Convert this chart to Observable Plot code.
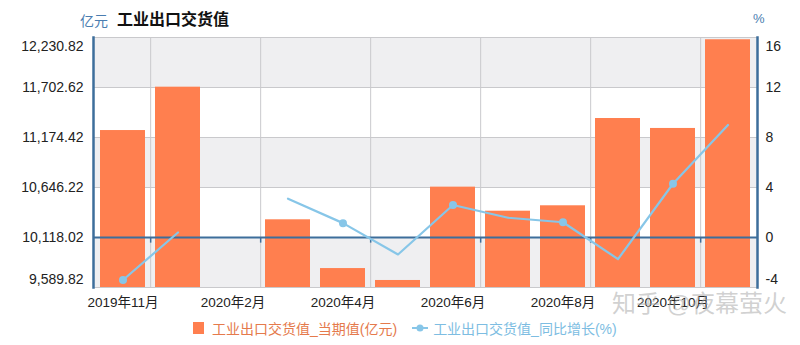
<!DOCTYPE html>
<html>
<head>
<meta charset="utf-8">
<script src="https://cdn.jsdelivr.net/npm/d3@7"></script>
<script src="https://cdn.jsdelivr.net/npm/@observablehq/plot@0.6"></script>
<style>
  html, body { margin: 0; padding: 0; background: #fff; }
  #wrap { position: relative; width: 800px; height: 345px; overflow: hidden;
          font-family: "Liberation Sans", "Noto Sans CJK SC", sans-serif; }
  #wrap svg.plot { position: absolute; left: 0; top: 0; }
  .abs { position: absolute; white-space: nowrap; font-family: "Liberation Sans", "Noto Sans CJK SC", sans-serif; }
</style>
</head>
<body>
<div id="wrap"></div>
<script>
// ---- data ----
const months = ["2019-11","2019-12","2020-02","2020-03","2020-04","2020-05","2020-06","2020-07","2020-08","2020-09","2020-10","2020-11"];
const currentValue = [11248, 11706, null, 10305, 9790, 9664, 10650, 10396, 10453, 11375, 11270, 12207];
const yoyGrowth = [-3.4, 0.4, null, 3.1, 1.15, -1.36, 2.6, 1.58, 1.22, -1.73, 4.3, 9.0];
const leftTicks = [9589.82, 10118.02, 10646.22, 11174.42, 11702.62, 12230.82];
const rightTicks = [-4, 0, 4, 8, 12, 16];
const xTickMonths = ["2019-11","2020-02","2020-04","2020-06","2020-08","2020-10"];
const xTickLabels = ["2019年11月","2020年2月","2020年4月","2020年6月","2020年8月","2020年10月"];
const dotMonths = ["2019-11","2020-04","2020-06","2020-08","2020-10"];
const title = "工业出口交货值";
const leftUnit = "亿元";
const rightUnit = "%";
const seriesNames = ["工业出口交货值_当期值(亿元)", "工业出口交货值_同比增长(%)"];
const watermark = "知乎 @夜幕萤火";

// ---- derived ----
const pctToVal = d3.scaleLinear()
  .domain([rightTicks[0], rightTicks[rightTicks.length - 1]])
  .range([leftTicks[0], leftTicks[leftTicks.length - 1]]);
const rows = months.map((m, i) => ({
  month: m,
  value: currentValue[i],
  pct: yoyGrowth[i],
  pctY: yoyGrowth[i] == null ? NaN : pctToVal(yoyGrowth[i])
}));
const labelOf = new Map(xTickMonths.map((m, i) => [m, xTickLabels[i]]));
const bands = [];
for (let i = leftTicks.length - 1; i > 0; i -= 2) bands.push({y1: leftTicks[i - 1], y2: leftTicks[i]});

const W = 800, H = 345, mL = 93, mR = 43, mT = 37, mB = 58;
const halfStep = (W - mL - mR) / months.length / 2;
const barColor = "#FF7F4F";
const lineColor = "#87C6E8";
const axisBlue = "#3d6e9b";
const zeroVal = pctToVal(0);
const yMin = leftTicks[0], yMax = leftTicks[leftTicks.length - 1];
const midTicks = leftTicks.slice(1, -1);
const fmtL = d3.format(",.2f");
const fmtR = d => String(Math.round(pctToVal.invert(d)));

const plot = Plot.plot({
  width: W, height: H,
  marginLeft: mL, marginRight: mR, marginTop: mT, marginBottom: mB,
  style: {fontFamily: "'Liberation Sans', 'Noto Sans CJK SC', sans-serif", background: "transparent", color: "#222"},
  x: {type: "band", domain: months, paddingInner: 0.18, paddingOuter: 0.09, label: null},
  y: {type: "linear", domain: [yMin, yMax], label: null},
  marks: [
    Plot.rectY(bands, {y1: "y1", y2: "y2", fill: "#efeff1"}),
    Plot.ruleY(leftTicks, {stroke: "#c9c9cc", strokeWidth: 1}),
    Plot.ruleX(xTickMonths, {x: d => d, dx: halfStep, stroke: "#c9c9cc", strokeWidth: 1}),
    Plot.barY(rows.filter(d => d.value != null), {x: "month", y1: yMin, y2: "value", fill: barColor}),
    Plot.ruleY([zeroVal], {stroke: axisBlue, strokeWidth: 2}),
    Plot.ruleX(xTickMonths, {x: d => d, dx: halfStep, y1: zeroVal, y2: pctToVal(-0.45), stroke: axisBlue, strokeWidth: 1.5}),
    Plot.line(rows, {x: "month", y: "pctY", stroke: lineColor, strokeWidth: 2.2}),
    Plot.dot(rows.filter(d => dotMonths.includes(d.month)), {x: "month", y: "pctY", r: 4, fill: lineColor, stroke: null}),
    Plot.frame({stroke: "#c9c9cc"}),
    Plot.frame({anchor: "left", stroke: axisBlue, strokeWidth: 2.5}),
    Plot.frame({anchor: "right", stroke: axisBlue, strokeWidth: 2.5}),
    // left axis
    Plot.axisY({anchor: "left", ticks: midTicks, tickFormat: fmtL, tickSize: 0, tickPadding: 10, fontSize: 14, label: null}),
    Plot.axisY({anchor: "left", ticks: [yMax], tickFormat: fmtL, tickSize: 0, tickPadding: 10, fontSize: 14, dy: 9, label: null}),
    Plot.axisY({anchor: "left", ticks: [yMin], tickFormat: fmtL, tickSize: 0, tickPadding: 10, fontSize: 14, dy: -8, label: null}),
    // right axis
    Plot.axisY({anchor: "right", ticks: midTicks, tickFormat: fmtR, tickSize: 0, tickPadding: 8, fontSize: 14, label: null}),
    Plot.axisY({anchor: "right", ticks: [yMax], tickFormat: fmtR, tickSize: 0, tickPadding: 8, fontSize: 14, dy: 9, label: null}),
    Plot.axisY({anchor: "right", ticks: [yMin], tickFormat: fmtR, tickSize: 0, tickPadding: 8, fontSize: 14, dy: -8, label: null}),
    Plot.axisX({ticks: xTickMonths, tickFormat: d => labelOf.get(d), tickSize: 0, tickPadding: 10, fontSize: 13.5, label: null})
  ]
});
plot.classList.add("plot");
const wrap = document.getElementById("wrap");
wrap.appendChild(plot);

function addText(txt, css) {
  const el = document.createElement("div");
  el.className = "abs";
  el.textContent = txt;
  Object.assign(el.style, css);
  wrap.appendChild(el);
  return el;
}
addText(leftUnit, {left: "80px", top: "10px", fontSize: "14px", color: "#4a7db0"});
addText(title, {left: "117px", top: "6px", fontSize: "16px", fontWeight: "bold", color: "#111"});
addText(rightUnit, {left: "753px", top: "11px", fontSize: "13px", color: "#4a7db0"});
addText(watermark, {left: "612px", top: "284px", fontSize: "24px", color: "rgba(170,170,170,0.55)"});

// legend
const lg = document.createElement("div");
lg.className = "abs";
Object.assign(lg.style, {left: "193px", top: "318px", fontSize: "14px", display: "flex", alignItems: "center"});
lg.innerHTML =
  `<span style="display:inline-block;width:11px;height:12px;background:${barColor};margin-right:8px"></span>` +
  `<span style="color:#e57a4c">${seriesNames[0]}</span>` +
  `<svg width="20" height="12" style="margin:0 2px 0 14px"><line x1="1" y1="6" x2="17" y2="6" stroke="${lineColor}" stroke-width="2"/><circle cx="9" cy="6" r="3.5" fill="${lineColor}"/></svg>` +
  `<span style="color:#7dbde2">${seriesNames[1]}</span>`;
wrap.appendChild(lg);
</script>
</body>
</html>
